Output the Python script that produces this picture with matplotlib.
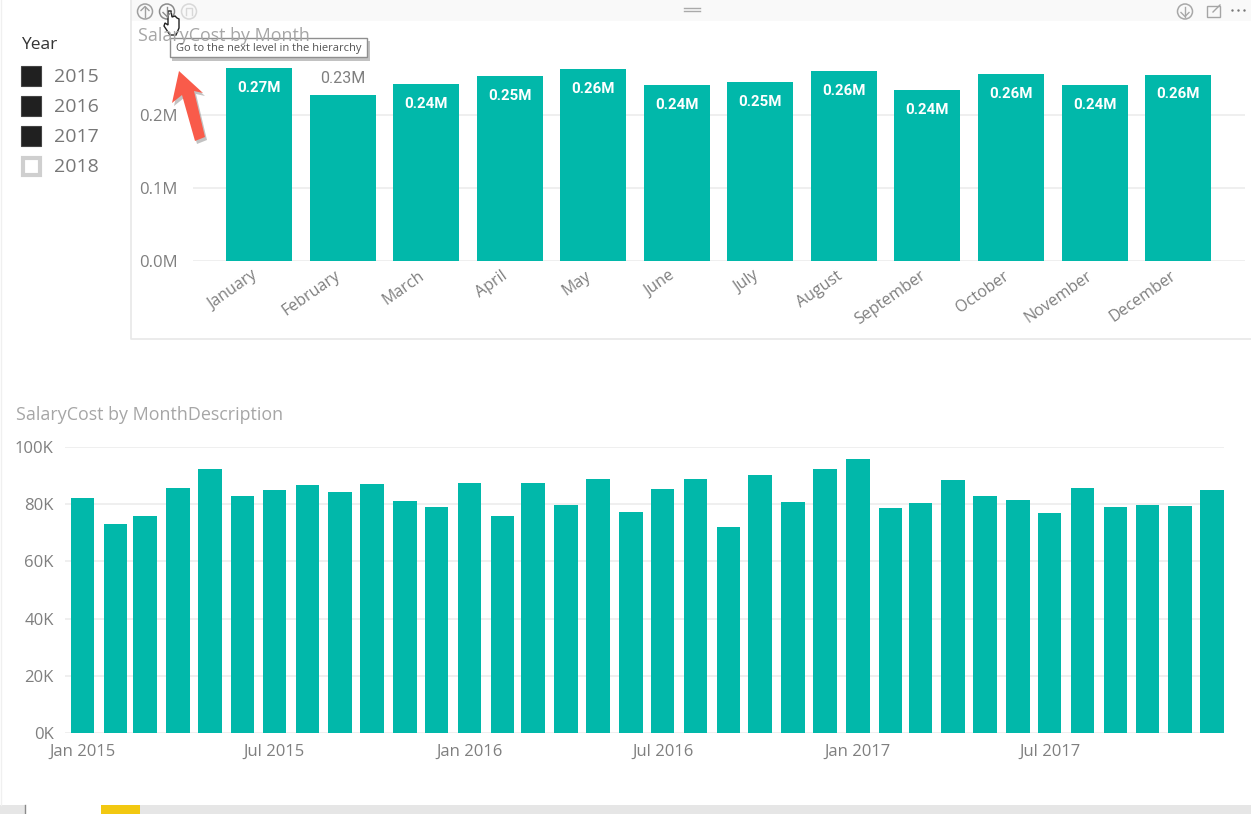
import datetime as dt
import matplotlib
matplotlib.use("Agg")
import matplotlib.pyplot as plt
import matplotlib.dates as mdates
from matplotlib.patches import Polygon, Rectangle, Circle

W, H = 1251, 814
TEAL = "#01b8aa"
GRID = "#ececec"
TICK = "#7f7f7f"
TITLE = "#a6a6a6"
plt.rcParams["font.family"] = ["Open Sans", "DejaVu Sans"]

months = ["January", "February", "March", "April", "May", "June", "July",
          "August", "September", "October", "November", "December"]
month_cost = [0.264, 0.227, 0.242, 0.253, 0.263, 0.241, 0.245, 0.260, 0.234, 0.256, 0.241, 0.255]
month_labels = ["0.27M", "0.23M", "0.24M", "0.25M", "0.26M", "0.24M", "0.25M", "0.26M",
                "0.24M", "0.26M", "0.24M", "0.26M"]
top_ticks = [0.0, 0.1, 0.2]
top_ticklabels = ["0.0M", "0.1M", "0.2M"]

years_months = [(y, m) for y in (2015, 2016, 2017) for m in range(1, 13)]
monthly_cost = [82.2, 73, 76, 85.7, 92.3, 82.9, 85, 86.7, 84.3, 87, 81, 79,
                87.4, 76, 87.4, 79.7, 88.8, 77.3, 85.3, 88.8, 72, 90.2, 80.8, 92.3,
                95.8, 78.7, 80.4, 88.5, 82.9, 81.5, 76.9, 85.7, 79, 79.7, 79.4, 85]
bottom_ticks = [0, 20, 40, 60, 80, 100]
bottom_ticklabels = ["0K", "20K", "40K", "60K", "80K", "100K"]
date_ticks = [dt.date(2015, 1, 1), dt.date(2015, 7, 1), dt.date(2016, 1, 1),
              dt.date(2016, 7, 1), dt.date(2017, 1, 1), dt.date(2017, 7, 1)]
date_ticklabels = ["Jan 2015", "Jul 2015", "Jan 2016", "Jul 2016", "Jan 2017", "Jul 2017"]
legend_years = ["2015", "2016", "2017", "2018"]
legend_on = [True, True, True, False]

fig = plt.figure(figsize=(W / 100, H / 100), dpi=100, facecolor="white")


def axes_px(x0, y0, x1, y1, **kw):
    return fig.add_axes([x0 / W, 1 - y1 / H, (x1 - x0) / W, (y1 - y0) / H], **kw)


# overlay behind charts
bg = axes_px(0, 0, W, H, zorder=0)
bg.set_xlim(0, W); bg.set_ylim(H, 0); bg.axis("off")
bg.add_patch(Rectangle((131, 0), W - 131, 21, fc="#f9f9f9", ec="none"))
bg.plot([131, 131, W], [0, 339, 339], color="#e8e8e8", lw=1.2)
bg.plot([0.5, 0.5], [0, 805], color="#f0f0f0", lw=1)
bg.add_patch(Rectangle((0, 805), W, 9, fc="#e6e6e6", ec="none"))
bg.add_patch(Rectangle((25, 805), 76, 9, fc="white", ec="none"))
bg.add_patch(Rectangle((101, 805), 39, 9, fc="#f2c811", ec="none"))
bg.plot([25, 25], [805, 814], color="#8a8a8a", lw=1)

# top chart
ax = axes_px(193, 20, 1245, 261, zorder=1)
ax.patch.set_alpha(0)
xs = list(range(len(months)))
pitch = 83.55
ax.set_xlim((193 - 259) / pitch, (1245 - 259) / pitch)
ax.set_ylim(0, 241 / 730)
ax.bar(xs, month_cost, width=66 / pitch, color=TEAL, zorder=2)
ax.set_yticks(top_ticks, top_ticklabels)
ax.set_xticks(xs, months, rotation=35, ha="right", rotation_mode="anchor")
ax.tick_params(axis="y", length=0, labelsize=12, labelcolor=TICK, pad=11)
ax.tick_params(axis="x", length=0, labelsize=11.5, labelcolor=TICK, pad=5)
# month labels sit a little left of the bar centres
offset = matplotlib.transforms.ScaledTranslation(-8 / 100, 0, fig.dpi_scale_trans)
for lab in ax.get_xticklabels():
    lab.set_transform(lab.get_transform() + offset)
ax.grid(axis="y", color=GRID, lw=1.2, zorder=0)
for s in ax.spines.values():
    s.set_visible(False)
for x, v, t in zip(xs, month_cost, month_labels):
    if t == "0.23M":
        ax.annotate(t, (x, v), xytext=(0, 7), textcoords="offset points", ha="center",
                    va="bottom", fontsize=11.5, color=TICK, family="Roboto")
    else:
        ax.annotate(t, (x, v), xytext=(0, -9), textcoords="offset points", ha="center",
                    va="top", fontsize=10.8, color="white", weight="bold", family="Roboto")

# bottom chart
ax2 = axes_px(65, 447, 1224, 733, zorder=1)
ax2.patch.set_alpha(0)
dates = [dt.date(y, m, 1) for y, m in years_months]
d0 = mdates.date2num(dates[0])
per_day = 1129.5 / (mdates.date2num(dates[-1]) - d0)
ax2.set_xlim(d0 - (82.5 - 65) / per_day, d0 + (1224 - 82.5) / per_day)
ax2.set_ylim(0, 100)
ax2.bar(dates, monthly_cost, width=23.5 / per_day, color=TEAL, zorder=2)
ax2.set_yticks(bottom_ticks, bottom_ticklabels)
ax2.set_xticks(date_ticks, date_ticklabels)
ax2.tick_params(axis="y", length=0, labelsize=12, labelcolor=TICK, pad=8)
ax2.tick_params(axis="x", length=0, labelsize=12, labelcolor=TICK, pad=8)
ax2.grid(axis="y", color=GRID, lw=1.2, zorder=0)
for s in ax2.spines.values():
    s.set_visible(False)

# overlay in front: titles, legend, toolbar, tooltip, arrow
ov = axes_px(0, 0, W, H, zorder=5)
ov.set_xlim(0, W); ov.set_ylim(H, 0); ov.axis("off"); ov.patch.set_alpha(0)
ov.text(138, 36, "SalaryCost by Month", fontsize=12.9, color=TITLE, va="center")
ov.text(16, 415, "SalaryCost by MonthDescription", fontsize=12.9, color=TITLE, va="center")
ov.text(21, 45, "Year", fontsize=12.5, color="#333333", va="center")
for i, (yr, on) in enumerate(zip(legend_years, legend_on)):
    cy = 76 + 30 * i
    if on:
        ov.add_patch(Rectangle((21, cy - 10), 20, 20, fc="#202020", ec="#444444", lw=0.8))
    else:
        ov.add_patch(Rectangle((22.5, cy - 8.5), 17, 17, fc="white", ec="#cfcfcf", lw=3))
    ov.text(54, cy + 1, yr, fontsize=14, color="#777777", va="center")

# toolbar icons
for cx, col in [(145, "#a0a0a0"), (167, "#8a8a8a"), (189, "#d8d8d8"), (1185, "#a8a8a8")]:
    ov.add_patch(Circle((cx, 11.5), 7.5, fc="none", ec=col, lw=1.1))
for cx, d, col in [(145, -1, "#a0a0a0"), (167, 1, "#8a8a8a"), (1185, 1, "#a8a8a8")]:
    ov.plot([cx, cx], [11.5 - 5, 11.5 + 5], color=col, lw=1)
    ov.plot([cx - 4, cx, cx + 4], [11.5 + d, 11.5 + 5 * d, 11.5 + d], color=col, lw=1)
ov.plot([186, 186, 192, 192], [15, 8, 8, 15], color="#d8d8d8", lw=1)
ov.plot([684, 700], [8, 8], color="#aaaaaa", lw=1)
ov.plot([684, 700], [11, 11], color="#aaaaaa", lw=1)
ov.add_patch(Rectangle((1207, 6), 13, 11, fc="none", ec="#a5a5a5", lw=1))
ov.plot([1213, 1220], [12, 5], color="#a5a5a5", lw=1)
ov.scatter([1232, 1238, 1244], [10, 10, 10], s=3, color="#777777", linewidths=0)

# tooltip
ov.add_patch(Rectangle((172, 41), 198, 20, fc="#a9a9a9", ec="none", alpha=0.7))
ov.add_patch(Rectangle((170, 38), 197, 19, fc="white", ec="#8f8f8f", lw=1))
ov.text(175.5, 48, "Go to the next level in the hierarchy", fontsize=8, color="#555555", va="center")

# arrow
arrow = [(179, 71), (203, 93), (194, 91), (205, 137), (195, 141), (182, 95), (172, 103)]
ov.add_patch(Polygon([(x + 2, y + 3) for x, y in arrow], fc="#9a9a9a", ec="none", alpha=0.6))
ov.add_patch(Polygon(arrow, fc="#f95b4a", ec="none"))

# hand cursor
hand = [(168, 11), (171, 11), (172, 17), (175, 16), (177, 18), (179, 19), (179, 28),
        (176, 35), (170, 35), (164, 26), (165, 23), (168, 25)]
ov.add_patch(Polygon(hand, fc="white", ec="#222222", lw=1))

fig.savefig("out.png", dpi=100)
